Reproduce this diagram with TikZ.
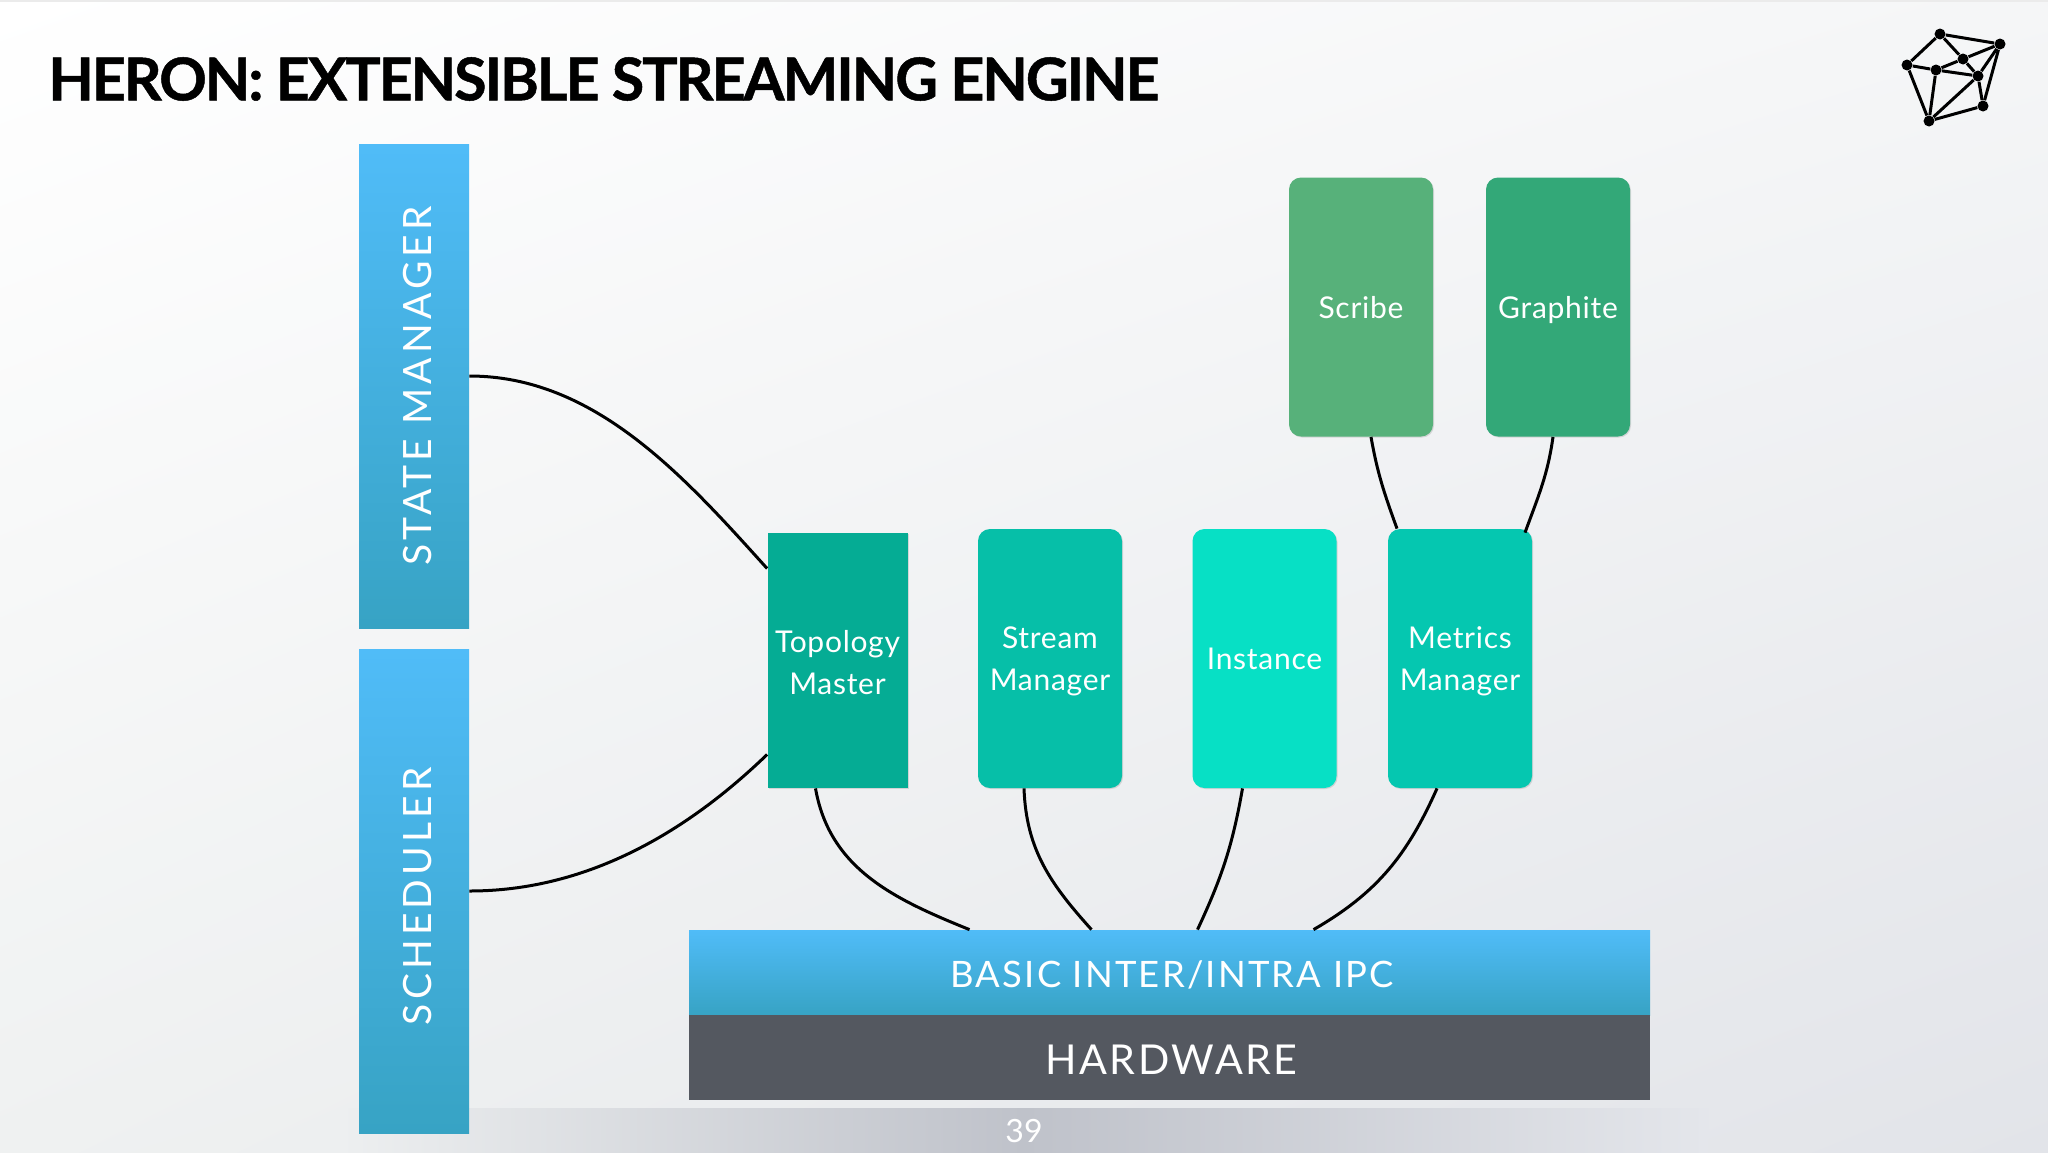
\documentclass[tikz,border=0pt]{standalone}
\usepackage{fontspec}
\setmainfont{Lato}
\newfontfamily\barfont[LetterSpace=10.5]{Lato}
\newfontfamily\layerfont[LetterSpace=6]{Lato}
\newfontfamily\procfont[LetterSpace=2.4]{Lato}
\newfontfamily\titlefont[LetterSpace=-3.4,BoldFeatures={FakeBold=0.8}]{Lato}
\usepackage{tikz}
\usetikzlibrary{shadows,shadings}
\definecolor{bluehi}{RGB}{80,188,248}
\definecolor{bluelo}{RGB}{55,163,196}
\definecolor{hardgray}{RGB}{84,88,96}
\definecolor{topocol}{RGB}{5,172,148}
\definecolor{streamcol}{RGB}{6,191,168}
\definecolor{instcol}{RGB}{7,224,197}
\definecolor{metrcol}{RGB}{5,199,176}
\definecolor{scribecol}{RGB}{87,177,122}
\definecolor{graphcol}{RGB}{51,168,120}
\definecolor{bgright}{RGB}{245,246,247}
\definecolor{bgleft}{RGB}{239,241,241}
\definecolor{bgcorner}{RGB}{226,228,233}
\definecolor{bandleft}{RGB}{237,239,240}
\definecolor{bandright}{RGB}{228,230,235}
\definecolor{bandmid}{RGB}{191,194,202}

\begin{document}
\begin{tikzpicture}[x=0.5pt, y=-0.5pt,
    sidebar/.style={rotate=90, top color=bluehi, bottom color=bluelo, text=white,
      minimum width=242pt, minimum height=55pt, inner sep=0pt, text height=17pt, text depth=0pt,
      font=\barfont\fontsize{19.5}{24}\selectfont},
    layerbox/.style={minimum width=480.5pt, minimum height=42.5pt, inner sep=0pt, text=white, text depth=0pt},
    procbox/.style={minimum width=72pt, minimum height=129.5pt, inner sep=0pt, text=white, align=center,
      rounded corners=6pt, text depth=0pt, font=\procfont\fontsize{15}{21}\selectfont,
      drop shadow={opacity=0.25, shadow xshift=0.5pt, shadow yshift=-0.5pt}},
    link/.style={black, line width=1.5pt},
    dot/.style={circle, fill=black, minimum size=5.5pt, inner sep=0pt}]
  \useasboundingbox (0,0) rectangle (2048,1152);

  % Background
  \shade[upper left=white, upper right=bgright, lower left=bgleft, lower right=bgcorner]
    (0,0) rectangle (2048,1152);
  \fill[black!8] (0,0) rectangle (2048,2);

  % Footer band
  \shade[left color=bandleft, right color=bandright, middle color=bandmid]
    (340,1108) rectangle (1708,1152);
  \node[text=white, font=\fontsize{16}{20}\selectfont] (page) at (1024,1131) {39};

  % Title
  \node[anchor=west, inner sep=0pt, font=\titlefont\bfseries\fontsize{29.5}{36}\selectfont] (title) at (48,79)
    {HERON: EXTENSIBLE STREAMING ENGINE};

  % Left bars
  \node[sidebar] (state) at (414,386) {STATE MANAGER};
  \node[sidebar] (sched) at (414,891) {\mbox{SCHEDULER\hspace{5.2pt}}};

  % Bottom layers
  \node[layerbox, top color=bluehi, bottom color=bluelo, text height=14.5pt,
    font=\layerfont\fontsize{18.2}{22}\selectfont] (ipc) at (1169.5,972.5) {\mbox{\hspace{2.6pt}BASIC INTER/INTRA IPC}};
  \node[layerbox, fill=hardgray, text height=17pt,
    font=\layerfont\fontsize{20.6}{25}\selectfont] (hard) at (1169.5,1057) {\mbox{\hspace{2pt}HARDWARE}};

  % Processes
  \node[procbox, fill=topocol, rounded corners=0pt, minimum width=70pt, minimum height=127.5pt, text height=34.4pt] (topo) at (837.5,660.5)
    {Topology\\Master};
  \node[procbox, fill=streamcol] (stream) at (1050,658.5) {Stream\\Manager};
  \node[procbox, fill=instcol] (inst) at (1264.5,658.5) {Instance};
  \node[procbox, fill=metrcol] (metr) at (1460,658.5) {Metrics\\Manager};
  \node[procbox, fill=scribecol] (scribe) at (1361,307) {Scribe};
  \node[procbox, fill=graphcol] (graph) at (1558,307) {Graphite};

  % Links
  \draw[link] ([yshift=5pt]state.south) to[out=0, in=132, looseness=0.9] ([yshift=46pt]topo.west);
  \draw[link] (sched.south) to[out=0, in=-136, looseness=0.9] ([yshift=-47pt]topo.west);
  \draw[link] ([xshift=-11pt]topo.south) to[out=-80, in=158] ([xshift=-100pt]ipc.north);
  \draw[link] ([xshift=-13pt]stream.south) to[out=-88, in=132] ([xshift=-39pt]ipc.north);
  \draw[link] ([xshift=-11pt]inst.south) to[out=-100, in=65] ([xshift=14pt]ipc.north);
  \draw[link] ([xshift=-11.5pt]metr.south) to[out=-114, in=30] ([xshift=72pt]ipc.north);
  \draw[link] ([xshift=5pt]scribe.south) to[out=-80, in=110] ([xshift=-31.5pt]metr.north);
  \draw[link] ([xshift=-2.5pt]graph.south) to[out=-98, in=70] ([xshift=32.5pt,yshift=-2pt]metr.north);

  % Logo
  \foreach \nm/\px/\py in {la/1940/34, lb/2000/44, lc/1907/65, ld/1936/70, le/1963/59, lf/1978/76, lg/1983/106, lh/1929/121}
    \node[dot] (\nm) at (\px,\py) {};
  \foreach \u/\v in {la/lb, la/lc, la/le, lc/ld, ld/le, le/lb, ld/lf, le/lf, lf/lb, lg/lb, lf/lg, lc/lh, ld/lh, lf/lh, lh/lg}
    \draw[black, line width=1.5pt] (\u) -- (\v);
\end{tikzpicture}
\end{document}
